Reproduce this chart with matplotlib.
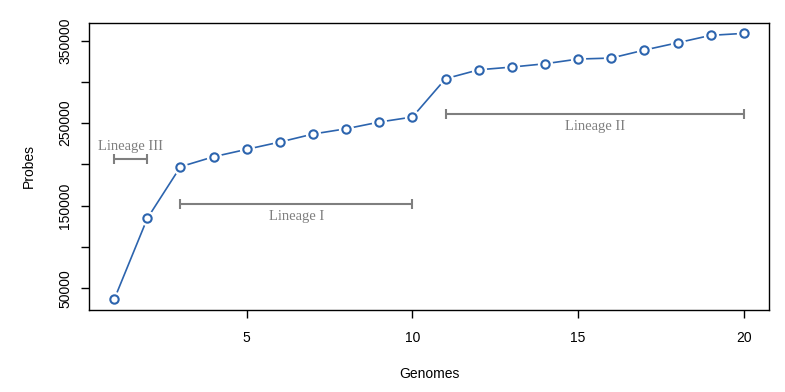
import numpy as np
import matplotlib
matplotlib.use('Agg')
import matplotlib.pyplot as plt

# data
genomes = list(range(1, 21))
probes = [36600, 134700, 197200, 209300, 218300, 227100, 236800, 243200, 251300, 257400,
          303800, 314600, 317900, 321900, 327600, 328800, 338500, 347300, 356300, 358700]

lineage_names = ['Lineage III', 'Lineage I', 'Lineage II']
lineage_start = [1, 3, 11]
lineage_end = [2, 10, 20]
lineage_bar_y = [206000, 152000, 261000]
lineage_text_y = [221500, 137500, 245500]

ytick_vals = [50000, 100000, 150000, 200000, 250000, 300000, 350000]
ytick_labels = ['50000', '', '150000', '', '250000', '', '350000']
xtick_vals = [5, 10, 15, 20]

plt.rcParams['font.family'] = ['Liberation Sans', 'DejaVu Sans']

fig = plt.figure(figsize=(7.85, 3.92), dpi=100)
ax = fig.add_axes([0.1134, 0.2092, 0.9796 - 0.1134, 0.942 - 0.2092])

blue = '#2c64ae'
ax.plot(genomes, probes, color=blue, lw=1.2, zorder=2)
# white halo so the line stops short of each circle
ax.plot(genomes, probes, 'o', ms=10, mfc='white', mec='white', zorder=3)
ax.plot(genomes, probes, 'o', ms=6, mfc='white', mec=blue, mew=1.5, zorder=4)

grey = '#7f7f7f'
for name, x0, x1, yb, yt in zip(lineage_names, lineage_start, lineage_end, lineage_bar_y, lineage_text_y):
    ax.errorbar((x0 + x1) / 2, yb, xerr=(x1 - x0) / 2, color=grey, lw=1.5,
                capsize=3.5, capthick=1.5, zorder=1)
    ax.text((x0 + x1) / 2, yt, name, color=grey, ha='center', va='center',
            fontsize=10.5, family=['Liberation Serif', 'DejaVu Serif'])

pad_x = 0.04 * (genomes[-1] - genomes[0])
ax.set_xlim(genomes[0] - pad_x, genomes[-1] + pad_x)
rng = max(probes) - min(probes)
ax.set_ylim(min(probes) - 0.04 * rng, max(probes) + 0.04 * rng)

ax.set_xticks(xtick_vals)
ax.set_xticklabels([str(v) for v in xtick_vals], fontsize=10)
ax.set_yticks(ytick_vals)
ax.set_yticklabels(ytick_labels, fontsize=10, rotation=90, va='center')
ax.tick_params(length=6, width=1, pad=6)
ax.tick_params(axis='x', pad=9)

for s in ax.spines.values():
    s.set_linewidth(1)

ax.set_xlabel('Genomes', fontsize=10, labelpad=16)
ax.set_ylabel('Probes', fontsize=10, labelpad=16)

fig.savefig('out.png', dpi=100)
